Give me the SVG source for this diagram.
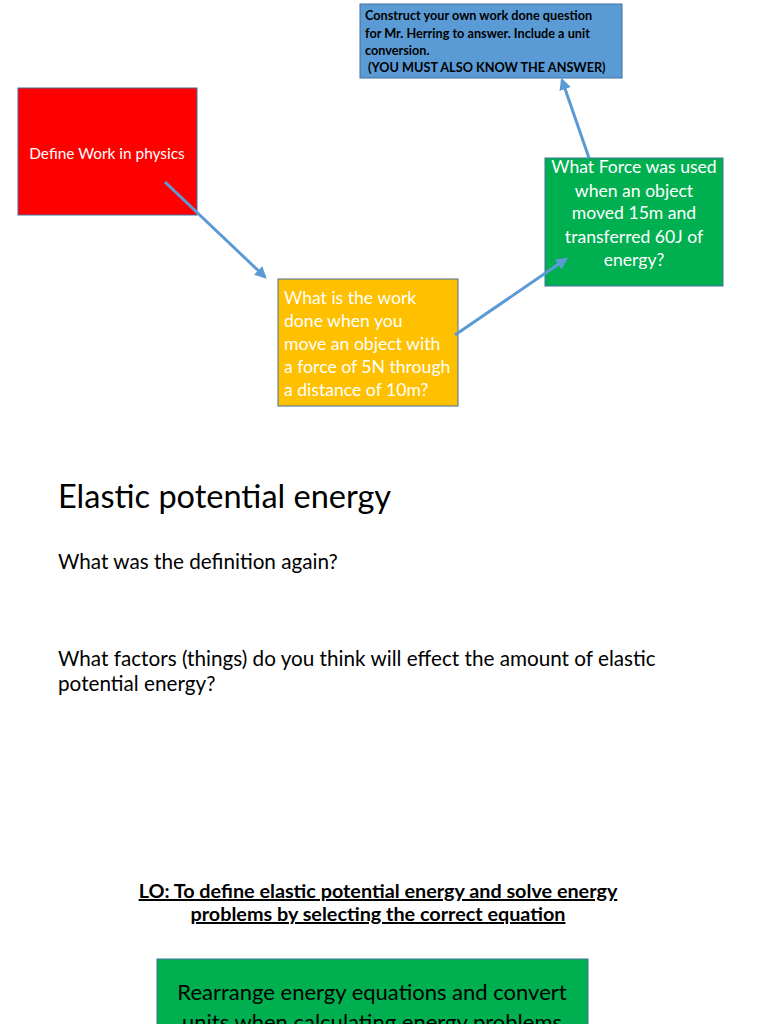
<svg xmlns="http://www.w3.org/2000/svg" width="768" height="1024" viewBox="0 0 768 1024">
<style>
text{font-family:Lato,"Liberation Sans",sans-serif}
.box{stroke:#41719c;stroke-width:1}
.w{fill:#fff;font-size:17.6px}
.c{stroke:#5b9bd5;stroke-width:3;fill:none;marker-end:url(#a)}
</style>
<defs><marker id="a" viewBox="0 0 10 10" refX="8" refY="5" markerWidth="4" markerHeight="4" orient="auto" markerUnits="strokeWidth"><path d="M0,0L10,5L0,10z" fill="#5b9bd5"/></marker></defs>
<rect width="768" height="1024" fill="#fff"/>
<g id="blue"><rect class="box" x="360" y="4" width="262" height="74" fill="#5b9bd5"/>
<text font-size="12.7" font-weight="bold" fill="#000"><tspan x="365" y="20">Construct your own work done question</tspan><tspan x="365" y="38">for Mr. Herring to answer. Include a unit</tspan><tspan x="365" y="55">conversion.</tspan><tspan x="368" y="72">(YOU MUST ALSO KNOW THE ANSWER)</tspan></text></g>
<g id="red"><rect class="box" x="18" y="88" width="179" height="127" fill="#ff0000"/>
<text class="w" x="107" y="159" text-anchor="middle" style="font-size:15.4px">Define Work in physics</text></g>
<g id="yellow"><rect class="box" x="278" y="279" width="180" height="127" fill="#ffc000"/>
<text class="w"><tspan x="284" y="304">What is the work</tspan><tspan x="284" y="327">done when you</tspan><tspan x="284" y="350">move an object with</tspan><tspan x="284" y="373">a force of 5N through</tspan><tspan x="284" y="396">a distance of 10m?</tspan></text></g>
<g id="green"><rect class="box" x="545" y="158" width="178" height="128" fill="#00b050"/>
<text class="w" text-anchor="middle"><tspan x="634" y="173">What Force was used</tspan><tspan x="634" y="197">when an object</tspan><tspan x="634" y="219">moved 15m and</tspan><tspan x="634" y="243">transferred 60J of</tspan><tspan x="634" y="266">energy?</tspan></text></g>
<g id="connectors">
<path class="c" d="M165,182L265,277"/>
<path class="c" d="M455,335L566,259"/>
<path class="c" d="M589,158L562,80"/>
</g>
<g id="texts" fill="#000">
<text x="58" y="508" font-size="32.5">Elastic potential energy</text>
<text x="58" y="569" font-size="20.7">What was the definition again?</text>
<text font-size="20.7"><tspan x="58" y="666">What factors (things) do you think will effect the amount of elastic</tspan><tspan x="58" y="691">potential energy?</tspan></text>
<text font-size="19.8" font-weight="bold" text-anchor="middle" text-decoration="underline"><tspan x="378" y="898">LO: To define elastic potential energy and solve energy</tspan><tspan x="378" y="921">problems by selecting the correct equation</tspan></text>
</g>
<g id="bottom"><rect class="box" x="157" y="959" width="431" height="80" fill="#00b050"/>
<text font-size="22" text-anchor="middle" fill="#000"><tspan x="372" y="1000">Rearrange energy equations and convert</tspan><tspan x="372" y="1030">units when calculating energy problems</tspan></text></g>
</svg>
